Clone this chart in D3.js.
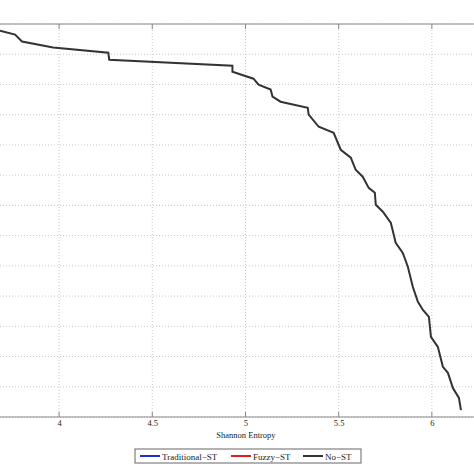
<!DOCTYPE html>
<html>
<head>
<meta charset="utf-8">
<script src="https://d3js.org/d3.v7.min.js"></script>
<style>
body { margin: 0; background: #fff; }
text { font-family: "Liberation Serif", serif; fill: #222; }
</style>
</head>
<body>
<script>
// No-ST curve (y in grid units)
var entropy = [3.683, 3.764, 3.801, 3.968, 4.264, 4.269, 4.930, 4.930, 5.043, 5.070,
  5.135, 5.145, 5.188, 5.334, 5.339, 5.393, 5.473, 5.511, 5.565, 5.591,
  5.629, 5.661, 5.694, 5.699, 5.737, 5.780, 5.806, 5.844, 5.871, 5.898,
  5.925, 5.952, 5.984, 5.995, 6.032, 6.059, 6.086, 6.113, 6.145, 6.156];
var value = [12.78, 12.65, 12.42, 12.22, 12.05, 11.82, 11.62, 11.42, 11.19, 10.99,
  10.83, 10.60, 10.43, 10.23, 10.00, 9.60, 9.40, 8.84, 8.58, 8.18,
  7.95, 7.58, 7.42, 7.02, 6.79, 6.42, 5.76, 5.43, 4.97, 4.30,
  3.81, 3.54, 3.31, 2.65, 2.32, 1.66, 1.46, 0.96, 0.63, 0.23];
var xTicks = [4, 4.5, 5, 5.5, 6];
var yTicks = d3.range(0, 14);
var legendNames = ["Traditional\u2212ST", "Fuzzy\u2212ST", "No\u2212ST"];
var legendColors = ["#1f2fd0", "#e02020", "#333333"];

var W = 474, H = 474;
var svg = d3.select("body").append("svg").attr("width", W).attr("height", H);

var x = d3.scaleLinear().domain([3.683, 6.226]).range([0, 474]);
var y = d3.scaleLinear().domain([0, 13]).range([417, 24]);

// grid
svg.selectAll(".vg").data(xTicks).enter().append("line")
  .attr("x1", d => x(d)).attr("x2", d => x(d)).attr("y1", 24).attr("y2", 417)
  .attr("stroke", "#bbb").attr("stroke-width", 0.8).attr("stroke-dasharray", "1,2");
svg.selectAll(".hg").data(yTicks).enter().append("line")
  .attr("x1", 0).attr("x2", W).attr("y1", d => y(d)).attr("y2", d => y(d))
  .attr("stroke", "#bbb").attr("stroke-width", 0.8).attr("stroke-dasharray", "1,2");

// frame top
svg.append("line").attr("x1", 0).attr("x2", W).attr("y1", 24).attr("y2", 24).attr("stroke", "#888");

var xAxis = svg.append("g").attr("transform", "translate(0,417)")
  .call(d3.axisBottom(x).tickValues(xTicks).tickSize(0).tickPadding(3).tickFormat(d3.format("")));
xAxis.select(".domain").attr("stroke", "#888").attr("d", "M0,0H" + W);
xAxis.selectAll("text").attr("font-size", 8.5);
svg.selectAll(".tk").data(xTicks).enter().append("line")
  .attr("x1", d => x(d)).attr("x2", d => x(d)).attr("y1", 417).attr("y2", 412).attr("stroke", "#888");
svg.selectAll(".tkt").data(xTicks).enter().append("line")
  .attr("x1", d => x(d)).attr("x2", d => x(d)).attr("y1", 24).attr("y2", 29).attr("stroke", "#888");

svg.append("text").attr("x", 246).attr("y", 438).attr("text-anchor", "middle")
  .attr("font-size", 8.5).text("Shannon Entropy");

// curve
var pts = entropy.map((e, i) => [e, value[i]]);
svg.append("path").datum(pts)
  .attr("fill", "none").attr("stroke", "#333").attr("stroke-width", 2)
  .attr("d", d3.line().x(d => x(d[0])).y(d => y(d[1])));

// legend
var lg = svg.append("g").attr("transform", "translate(135,449)");
lg.append("rect").attr("width", 226).attr("height", 14).attr("fill", "#fff").attr("stroke", "#666");
var offs = [5, 96, 168];
legendNames.forEach(function(n, i) {
  lg.append("line").attr("x1", offs[i]).attr("x2", offs[i] + 20).attr("y1", 7).attr("y2", 7)
    .attr("stroke", legendColors[i]).attr("stroke-width", 2);
  lg.append("text").attr("x", offs[i] + 22).attr("y", 10.5).attr("font-size", 9).text(n);
});
</script>
</body>
</html>
